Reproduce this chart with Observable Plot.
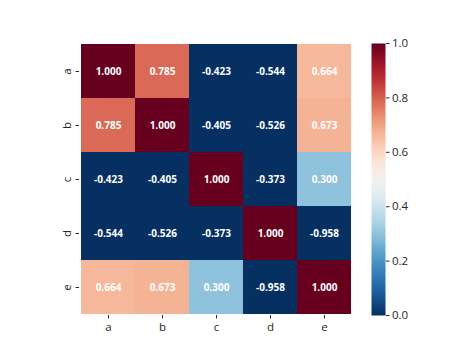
<!DOCTYPE html>
<html>
<head>
<meta charset="utf-8">
<script src="https://cdn.jsdelivr.net/npm/d3@7"></script>
<script src="https://cdn.jsdelivr.net/npm/@observablehq/plot@0.6"></script>
<style>
  html, body { margin: 0; padding: 0; background: #fff; }
  #wrap { position: relative; width: 474px; height: 355px; overflow: hidden; }
  #wrap svg { position: absolute; top: 0; }
</style>
</head>
<body>
<div id="wrap"></div>
<script>
const labels = ["a", "b", "c", "d", "e"];
const rowA = [1.000, 0.785, -0.423, -0.544, 0.664];
const rowB = [0.785, 1.000, -0.405, -0.526, 0.673];
const rowC = [-0.423, -0.405, 1.000, -0.373, 0.300];
const rowD = [-0.544, -0.526, -0.373, 1.000, -0.958];
const rowE = [0.664, 0.673, 0.300, -0.958, 1.000];
const colorTicks = [0, 0.2, 0.4, 0.6, 0.8, 1.0];

const rows = [rowA, rowB, rowC, rowD, rowE];
const cells = [];
rows.forEach((r, i) => r.forEach((v, j) => cells.push({row: labels[i], col: labels[j], value: v})));

const colorOpts = {type: "linear", domain: [0, 1], scheme: "rdbu", reverse: true, clamp: true};
const font = "'Open Sans', 'DejaVu Sans', sans-serif";
const textColor = "#262626";

const heat = Plot.plot({
  width: 474,
  height: 355,
  marginLeft: 79,
  marginRight: 121,
  marginTop: 43,
  marginBottom: 40,
  style: {fontFamily: font, fontSize: "11px", color: textColor, background: "transparent"},
  x: {domain: labels, padding: 0, label: null},
  y: {domain: labels, padding: 0, label: null},
  color: colorOpts,
  marks: [
    Plot.cell(cells, {x: "col", y: "row", fill: "value", inset: 0}),
    Plot.text(cells, {x: "col", y: "row", text: d => d.value.toFixed(3), fill: "white", fontWeight: "bold", fontSize: 10}),
    Plot.axisX({anchor: "bottom", tickSize: 3.5, tickPadding: 4, fontSize: 11.5, label: null}),
    Plot.axisY({anchor: "left", tickSize: 3.5, tickPadding: 5, tickRotate: -90, fontSize: 11.5, label: null})
  ]
});
heat.style.left = "0px";

const bar = Plot.plot({
  width: 100,
  height: 355,
  marginLeft: 0,
  marginRight: 86,
  marginTop: 43,
  marginBottom: 40,
  style: {fontFamily: font, fontSize: "11px", color: textColor, background: "transparent"},
  x: {domain: [0, 1], axis: null},
  y: {domain: [0, 1], label: null},
  color: colorOpts,
  marks: [
    Plot.raster({x1: 0, x2: 1, y1: 0, y2: 1, width: 1, height: 256, fill: (x, y) => y, imageRendering: "auto"}),
    Plot.axisY({anchor: "right", ticks: colorTicks, tickFormat: d3.format(".1f"), tickSize: 3.5, tickPadding: 3, fontSize: 11.5, label: null})
  ]
});
bar.style.left = "371px";

document.getElementById("wrap").append(heat, bar);
</script>
</body>
</html>
